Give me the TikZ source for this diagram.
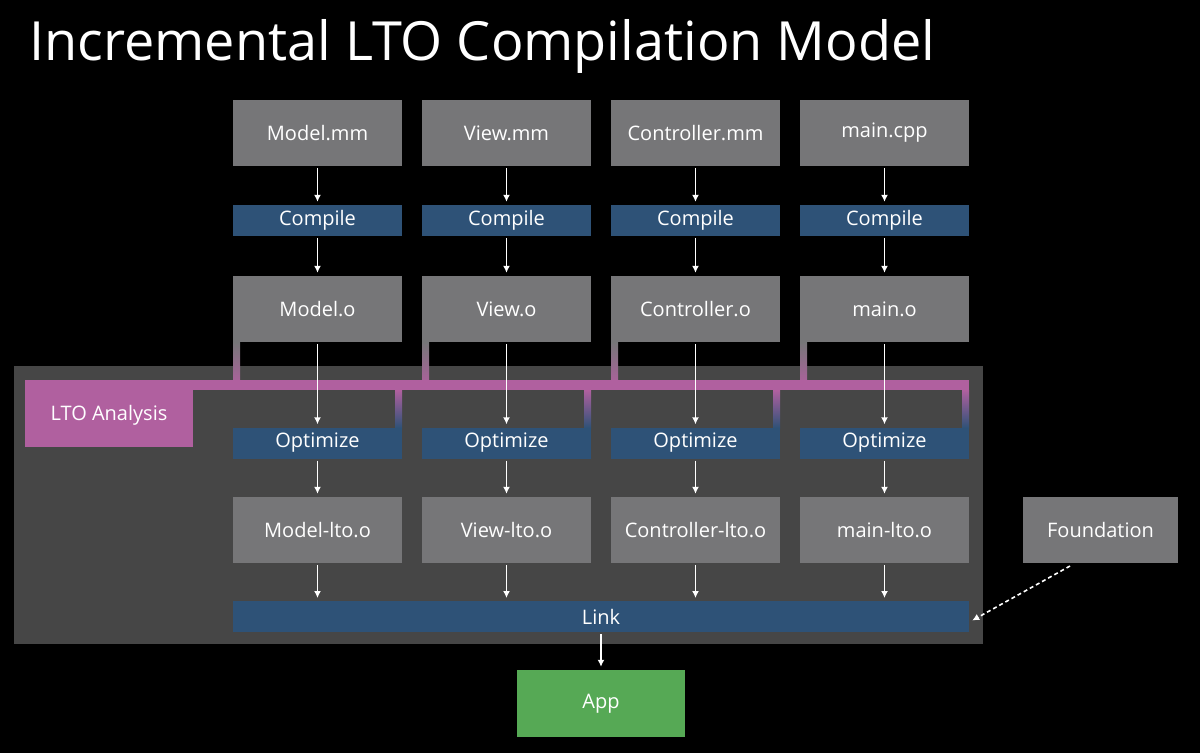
\documentclass[tikz,border=0pt]{standalone}
\usepackage{fontspec}
\setmainfont{Open Sans}
\begin{document}
\begin{tikzpicture}[x=1pt,y=-1pt,
  box/.style={fill=gbox,draw=none,minimum width=169pt,minimum height=66pt,inner sep=0pt,text=white,font=\fontsize{20}{24}\selectfont},
  bar/.style={fill=bbar,draw=none,minimum width=169pt,minimum height=31pt,inner sep=0pt,text=white,font=\fontsize{20}{24}\selectfont},
  arr/.style={draw=white,line width=1.6pt,-{Latex[length=7pt,width=7pt]}}]
\usetikzlibrary{arrows.meta}
\definecolor{gbox}{HTML}{767678}
\definecolor{bbar}{HTML}{2E5277}
\definecolor{pnk}{HTML}{B0609F}
\definecolor{grn}{HTML}{56A955}
\definecolor{pan}{HTML}{464646}
\fill[black] (0,0) rectangle (1200,753);
\useasboundingbox (0,0) rectangle (1200,753);
\node[anchor=base west,text=white,font=\fontsize{54}{60}\selectfont\addfontfeature{}] (title) at (26,60) {Incremental LTO Compilation Model};
\fill[pan] (14,366) rectangle (983,644);
\foreach \n/\x in {0/233,1/422,2/611,3/800}{
  \fill[top color=gbox,bottom color=pnk] (\x,342) rectangle (\x+7,387);
  \fill[top color=pnk,bottom color=bbar] (\x+162,390) rectangle (\x+169,428);
}
\fill[pnk] (25,380) rectangle (969,390);
\node[fill=pnk,minimum width=168pt,minimum height=64pt,inner sep=0pt,text=white,font=\fontsize{20}{24}\selectfont] (lto) at (109,415) {LTO Analysis};
\foreach \n/\s/\x in {m/Model/317.5,v/View/506.5,c/Controller/695.5}{}
\foreach \i/\src/\obj/\lto/\x in {a/Model.mm/Model.o/Model-lto.o/317.5,b/View.mm/View.o/View-lto.o/506.5,c/Controller.mm/Controller.o/Controller-lto.o/695.5,d/main.cpp/main.o/main-lto.o/884.5}{
  \node[box] (s\i) at (\x,133) {\src};
  \node[bar] (c\i) at (\x,220.5) {Compile};
  \node[box] (o\i) at (\x,309) {\obj};
  \node[bar] (p\i) at (\x,443) {Optimize};
  \node[box] (l\i) at (\x,530) {\lto};
  \draw[arr] ([yshift=-2pt]s\i.south) -- ([yshift=3pt]c\i.north);
  \draw[arr] ([yshift=-2pt]c\i.south) -- ([yshift=3pt]o\i.north);
  \draw[arr] ([yshift=-2pt]o\i.south) -- ([yshift=3pt]p\i.north);
  \draw[arr] ([yshift=-2pt]p\i.south) -- ([yshift=3pt]l\i.north);
  \coordinate (k\i) at (\x,601);
  \draw[arr] ([yshift=-2pt]l\i.south) -- ([yshift=3pt]k\i);
}
\node[bar,minimum width=736pt] (link) at (601,616.5) {Link};
\node[fill=grn,minimum width=168pt,minimum height=67pt,inner sep=0pt,text=white,font=\fontsize{20}{24}\selectfont] (app) at (601,703.5) {App};
\draw[arr] ([yshift=-2pt]link.south) -- ([yshift=3pt]app.north);
\node[box,minimum width=155pt] (fd) at (1100.5,530) {Foundation};
\draw[arr,dashed,dash pattern=on 4pt off 3pt] (1070,566) -- ([xshift=3pt,yshift=-4pt]link.east);
\end{tikzpicture}
\end{document}
